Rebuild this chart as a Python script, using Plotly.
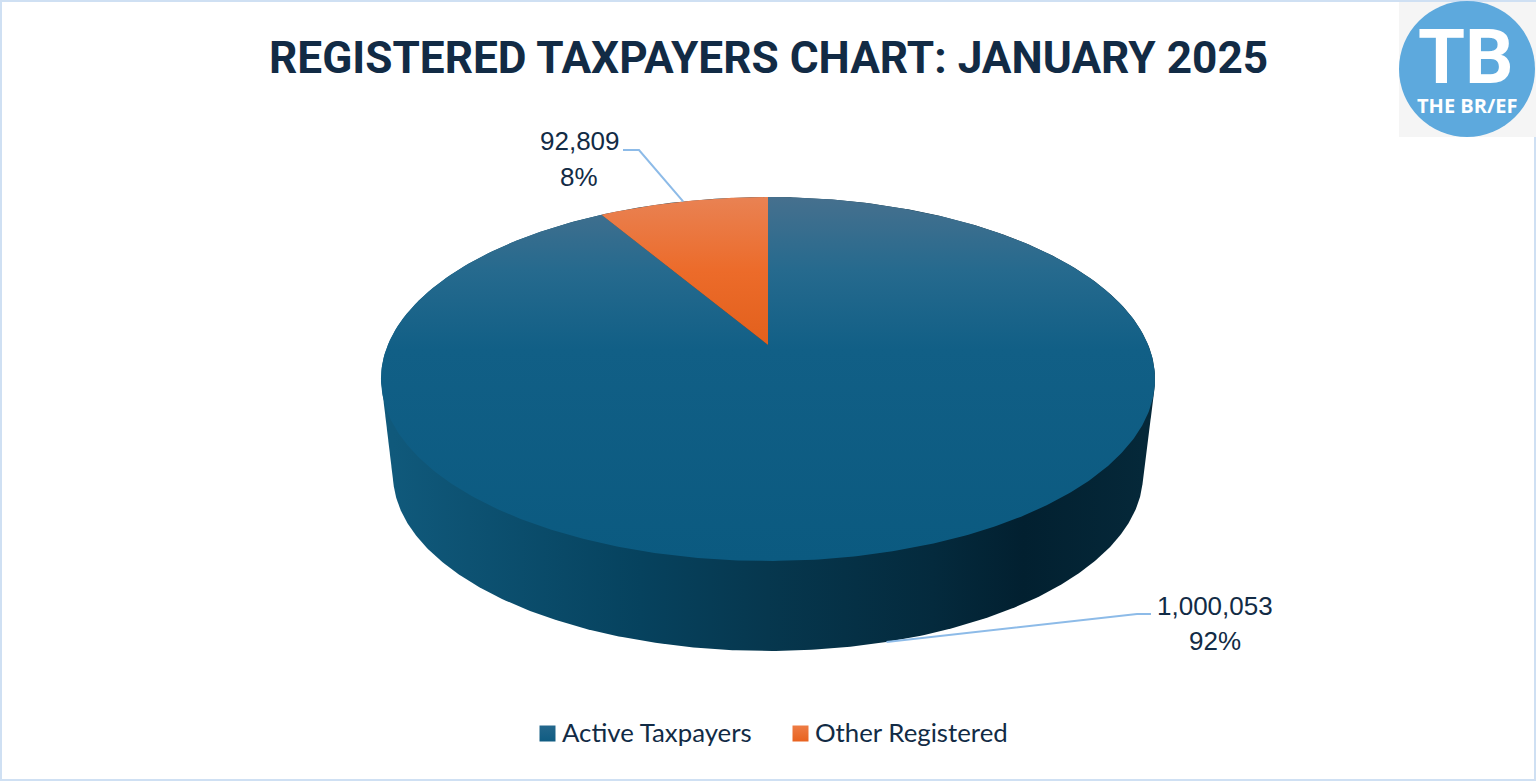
import numpy as np
import plotly.graph_objects as go

# Registered taxpayers, January 2025
categories = ["Active Taxpayers", "Other Registered"]
taxpayers = [1000053, 92809]

W, H = 1536, 781
INK = "#122b45"
LEADER = "#8dbbe8"

# Pie geometry: a disc seen in perspective, in page-pixel axes
APEX_X, APEX_Y = 768.0, 345.0
A, B, K = 380.2, 175.6, 0.1868
BASE_SCALE, BASE_DROP = 0.969, 96.7


def project(t, base=False):
    """Map disc angles (radians, 90 deg = far edge) onto the page."""
    d = 1 + K * np.sin(t)
    x = A * np.cos(t) / d
    y = B * np.sin(t) / d
    if base:
        return APEX_X + BASE_SCALE * x, APEX_Y + BASE_DROP - BASE_SCALE * y
    return APEX_X + x, APEX_Y - y


def convex_hull(pts):
    pts = sorted(set(map(tuple, pts)))

    def half(seq):
        out = []
        for p in seq:
            while len(out) > 1 and (
                (out[-1][0] - out[-2][0]) * (p[1] - out[-2][1])
                - (out[-1][1] - out[-2][1]) * (p[0] - out[-2][0])
            ) <= 0:
                out.pop()
            out.append(p)
        return out[:-1]

    return half(pts) + half(pts[::-1])


total = sum(taxpayers)
share_other = taxpayers[1] / total
split = np.pi / 2 + 2 * np.pi * share_other   # other slice runs anticlockwise from the top

fig = go.Figure()

# Side wall: outline of the top and base rims together
ring = np.linspace(0, 2 * np.pi, 721)
hull = convex_hull(
    list(zip(*[np.round(v, 2) for v in project(ring)]))
    + list(zip(*[np.round(v, 2) for v in project(ring, base=True)]))
)
hull.append(hull[0])
fig.add_trace(go.Scatter(
    x=[p[0] for p in hull], y=[p[1] for p in hull],
    mode="lines", line=dict(width=0), fill="toself", showlegend=False, hoverinfo="skip",
    fillcolor="#063449",
    fillgradient=dict(
        type="horizontal", start=393, stop=1143,
        colorscale=[[0, "#10597b"], [0.33, "#06425e"], [0.5, "#06374e"],
                    [0.72, "#042a3d"], [0.84, "#022030"], [1, "#052839"]],
    ),
))

# Top face slices
t_blue = np.linspace(split, 2 * np.pi + np.pi / 2, 600)
t_orange = np.linspace(np.pi / 2, split, 80)
faces = [
    (t_blue, 0, [[0, "#46708e"], [0.2, "#266a8e"], [0.42, "#115f86"], [1, "#0b5a80"]], 197, 561),
    (t_orange, 1, [[0, "#e98253"], [0.5, "#ec6b2a"], [1, "#e2601c"]], 197, 345),
]
for t, idx, scale, y0, y1 in faces:
    px, py = project(t)
    fig.add_trace(go.Scatter(
        x=np.r_[APEX_X, px, APEX_X], y=np.r_[APEX_Y, py, APEX_Y],
        mode="lines", line=dict(width=0), fill="toself", showlegend=False,
        name=categories[idx], hoverinfo="skip",
        fillcolor=scale[1][1],
        fillgradient=dict(type="vertical", start=y0, stop=y1, colorscale=scale),
    ))

# Leader lines start at each slice's mid-angle on the visible rim
mid_other = np.pi / 2 + np.pi * share_other
mid_active = (split + 2 * np.pi + np.pi / 2) / 2
ax, ay = project(np.array([mid_other]))
bx, by = project(np.array([mid_active]), base=True)
fig.add_trace(go.Scatter(x=[623, 639, ax[0]], y=[150, 150, ay[0]], mode="lines",
                         line=dict(color=LEADER, width=2), showlegend=False, hoverinfo="skip"))
fig.add_trace(go.Scatter(x=[bx[0], 1137, 1151], y=[by[0], 614, 614], mode="lines",
                         line=dict(color=LEADER, width=2), showlegend=False, hoverinfo="skip"))


def label(x, y, text, size=26, color=INK, family="Liberation Sans", bold=False, anchor="center",
          height=None):
    fig.add_annotation(x=x, y=y, text=f"<b>{text}</b>" if bold else text, showarrow=False,
                       xanchor=anchor, yanchor="middle", height=height,
                       font=dict(size=size, color=color, family=family))


# Legend row: gradient swatch followed by its label
legend_x = [547.5, 800.5]
for x0, name, top, bottom in zip(legend_x, categories, ["#24678c", "#ee7c45"], ["#0f5c82", "#e8621f"]):
    fig.add_trace(go.Scatter(
        x=[x0], y=[733.5], mode="markers", name=name, showlegend=False, hoverinfo="skip",
        marker=dict(symbol="square", size=16, color=top, line=dict(width=0),
                    gradient=dict(type="vertical", color=bottom)),
    ))
    label(x0 + 12, 732, name, size=25.8, family="Lato", anchor="left")

pct = [f"{round(v / total * 100)}%" for v in taxpayers]
label(1215, 606, f"{taxpayers[0]:,}")
label(1215, 641, pct[0])
label(580, 141, f"{taxpayers[1]:,}")
label(579, 177, pct[1])

# Title
label(768.5, 58, "REGISTERED TAXPAYERS CHART: JANUARY 2025", size=44.2, family="Roboto", bold=True)

# Badge in the top right corner
label(1465.5, 57, "TB", size=76, color="white", family="Roboto", bold=True, height=76)
label(1467, 105, "THE BR/EF", size=20, color="white", family="Open Sans", bold=True, height=20)

fig.update_layout(
    width=W, height=H, autosize=False,
    margin=dict(l=0, r=0, t=0, b=0),
    paper_bgcolor="white", plot_bgcolor="white",
    showlegend=False,
    xaxis=dict(range=[0, W], visible=False, fixedrange=True),
    yaxis=dict(range=[H, 0], visible=False, fixedrange=True),
    shapes=[
        dict(type="rect", xref="paper", yref="paper", x0=0, x1=1, y0=0, y1=1,
             fillcolor="rgba(0,0,0,0)", line=dict(color="#cfe0f3", width=4), layer="below"),
        dict(type="rect", xref="x", yref="y", x0=1399, x1=1536, y0=2, y1=137,
             fillcolor="#f5f5f5", line=dict(width=0), layer="below"),
        dict(type="circle", xref="x", yref="y", x0=1399, x1=1535, y0=1, y1=137,
             fillcolor="#5da9dd", line=dict(width=0), layer="below"),
    ],
)

fig.write_html("out.html", config={"displayModeBar": False})
